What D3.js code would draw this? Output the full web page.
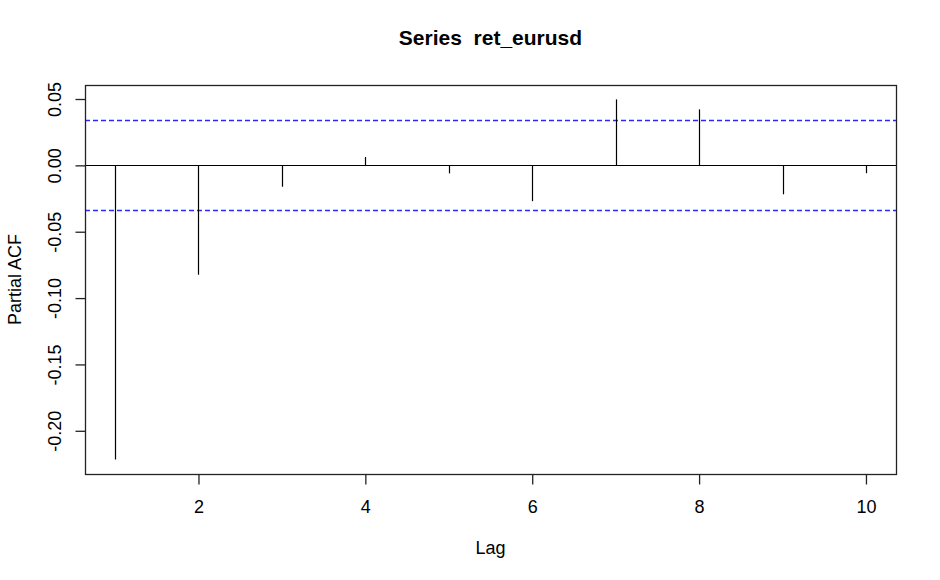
<!DOCTYPE html>
<html>
<head>
<meta charset="utf-8">
<script src="https://cdn.jsdelivr.net/npm/d3@7"></script>
<style>
  html, body { margin: 0; padding: 0; background: #ffffff; }
  svg { display: block; }
  text { font-family: Arial, "Liberation Sans", sans-serif; fill: #000; white-space: pre; }
</style>
</head>
<body>
<svg id="chart" width="940" height="580"></svg>
<script>
// ---- data ----
const lags = [1, 2, 3, 4, 5, 6, 7, 8, 9, 10];
const pacfValues = [-0.2217, -0.0824, -0.0161, 0.0063, -0.0060, -0.0270, 0.0497, 0.0422, -0.0218, -0.0059];
const confLimit = 0.034;
const xTicks = [2, 4, 6, 8, 10];
const yTicks = [-0.20, -0.15, -0.10, -0.05, 0.00, 0.05];
const titleText = "Series  ret_eurusd";
const xLabel = "Lag";
const yLabel = "Partial ACF";

// ---- layout ----
const plot = { left: 85, right: 896, top: 85, bottom: 474 };
const tickFont = 18;

const svg = d3.select("#chart");

// R-style 4% axis extension
const xMin = d3.min(lags), xMax = d3.max(lags);
const xPad = (xMax - xMin) * 0.04;
const yLo = Math.min(d3.min(pacfValues), -confLimit);
const yHi = Math.max(d3.max(pacfValues), confLimit);
const yPad = (yHi - yLo) * 0.04;

const x = d3.scaleLinear().domain([xMin - xPad, xMax + xPad]).range([plot.left, plot.right]);
const y = d3.scaleLinear().domain([yLo - yPad, yHi + yPad]).range([plot.bottom, plot.top]);

const fmtY = d => d3.format(".2f")(d).replace("\u2212", "-");

// confidence lines
svg.selectAll("line.conf").data([confLimit, -confLimit]).enter().append("line")
  .attr("class", "conf")
  .attr("x1", plot.left).attr("x2", plot.right)
  .attr("y1", d => Math.round(y(d)) + 0.5).attr("y2", d => Math.round(y(d)) + 0.5)
  .attr("stroke", "#2a2aff").attr("stroke-width", 1.3)
  .attr("stroke-dasharray", "5,3");

// zero line
svg.append("line")
  .attr("x1", plot.left).attr("x2", plot.right)
  .attr("y1", Math.round(y(0)) + 0.5).attr("y2", Math.round(y(0)) + 0.5)
  .attr("stroke", "#000").attr("stroke-width", 1.2);

// spikes
svg.selectAll("line.spike").data(lags).enter().append("line")
  .attr("class", "spike")
  .attr("x1", d => Math.round(x(d)) + 0.5).attr("x2", d => Math.round(x(d)) + 0.5)
  .attr("y1", Math.round(y(0)) + 0.5)
  .attr("y2", (d, i) => y(pacfValues[i]))
  .attr("stroke", "#000").attr("stroke-width", 1.2);

// box
svg.append("rect")
  .attr("x", plot.left + 0.5).attr("y", plot.top + 0.5)
  .attr("width", plot.right - plot.left).attr("height", plot.bottom - plot.top)
  .attr("fill", "none").attr("stroke", "#222").attr("stroke-width", 1.3);

// x axis
const xAxis = d3.axisBottom(x).tickValues(xTicks).tickSize(10).tickPadding(0).tickFormat(d3.format("d"));
const gx = svg.append("g").attr("transform", `translate(0,${plot.bottom + 0.5})`).call(xAxis);
gx.select(".domain").remove();
gx.selectAll(".tick line").attr("stroke", "#222").attr("stroke-width", 1.3);
gx.selectAll(".tick text")
  .attr("y", 38).attr("dy", null)
  .attr("font-size", tickFont).attr("font-family", "Arial, 'Liberation Sans', sans-serif").attr("fill", "#000");

// y axis
const yAxis = d3.axisLeft(y).tickValues(yTicks).tickSize(10).tickFormat(fmtY);
const gy = svg.append("g").attr("transform", `translate(${plot.left + 0.5},0)`).call(yAxis);
gy.select(".domain").remove();
gy.selectAll(".tick line").attr("stroke", "#222").attr("stroke-width", 1.3);
gy.selectAll(".tick text")
  .attr("x", null).attr("dy", null)
  .attr("transform", "translate(-25,0) rotate(-90)")
  .attr("text-anchor", "middle")
  .attr("font-size", tickFont).attr("font-family", "Arial, 'Liberation Sans', sans-serif").attr("fill", "#000");

// title
svg.append("text")
  .attr("x", (plot.left + plot.right) / 2).attr("y", 45)
  .attr("text-anchor", "middle")
  .attr("font-size", 21).attr("font-weight", "bold")
  .text(titleText);

// axis labels
svg.append("text")
  .attr("x", (plot.left + plot.right) / 2).attr("y", 554)
  .attr("text-anchor", "middle").attr("font-size", tickFont)
  .text(xLabel);

svg.append("text")
  .attr("transform", `translate(20.5,${(plot.top + plot.bottom) / 2}) rotate(-90)`)
  .attr("text-anchor", "middle").attr("font-size", tickFont)
  .text(yLabel);
</script>
</body>
</html>
